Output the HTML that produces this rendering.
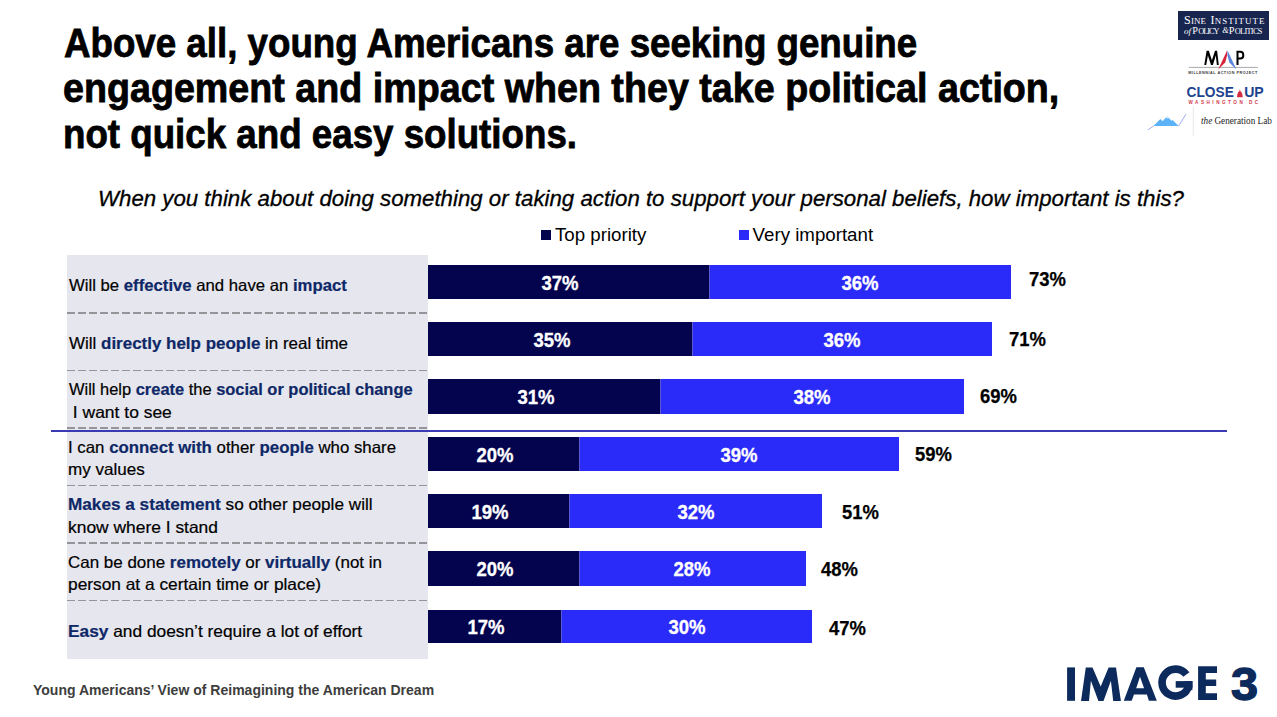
<!DOCTYPE html>
<html><head><meta charset="utf-8">
<style>
html,body{margin:0;padding:0;background:#fff;}
body{width:1277px;height:717px;position:relative;overflow:hidden;font-family:"Liberation Sans",sans-serif;}
.t{position:absolute;white-space:nowrap;line-height:1;transform-origin:0 0;}
.ti{font-weight:bold;font-size:40px;color:#000;-webkit-text-stroke:0.8px #000;}
.sub{font-style:italic;font-size:22.3px;color:#000;-webkit-text-stroke:0.3px #000;}
.lg{font-size:18.7px;color:#000;}
.sq{position:absolute;width:10px;height:10px;}
.panel{position:absolute;left:67px;top:255px;width:361px;height:404px;background:#e6e6ee;}
.dash{position:absolute;left:67px;width:361px;height:1.5px;background:repeating-linear-gradient(90deg,#959599 0 7.9px,transparent 7.9px 11px);}
.rl{font-size:16.5px;color:#000;-webkit-text-stroke:0.2px #000;}
.rl b{color:#0e2867;-webkit-text-stroke:0.2px #0e2867;}
.bar{position:absolute;height:34px;}
.d{background:#03034e;}
.v{background:#2b2bf9;box-shadow:inset 1px 0 0 #5a5ad2;}
.bl{font-weight:bold;font-size:20px;color:#fff;text-align:center;width:100px;transform-origin:50% 0;transform:scaleX(0.927);-webkit-text-stroke:0.3px #fff;}
.tot{font-weight:bold;font-size:19.5px;color:#000;-webkit-text-stroke:0.25px #000;}
</style></head><body>
<!-- Title -->
<div class="t ti" style="left:63.5px;top:22.84px;transform:scaleX(0.9175)">Above all, young Americans are seeking genuine</div>
<div class="t ti" style="left:63.3px;top:67.74px;transform:scaleX(0.9417)">engagement and impact when they take political action,</div>
<div class="t ti" style="left:62.9px;top:114.14px;transform:scaleX(0.9177)">not quick and easy solutions.</div>

<!-- Subtitle -->
<div class="t sub" style="left:98px;top:188.4px;font-size:22.25px">When you think about doing something or taking action to support your personal beliefs, how important is this?</div>

<!-- Legend -->
<div class="sq" style="left:541px;top:230px;background:#03034e"></div>
<div class="t lg" style="left:555px;top:225.7px;">Top priority</div>
<div class="sq" style="left:739px;top:230px;background:#2b2bf9"></div>
<div class="t lg" style="left:752.6px;top:225.7px;">Very important</div>

<!-- Panel -->
<div class="panel"></div>
<div class="dash" style="top:312px"></div>
<div class="dash" style="top:369.5px"></div>
<div class="dash" style="top:427px"></div>
<div class="dash" style="top:484.5px"></div>
<div class="dash" style="top:542px"></div>
<div class="dash" style="top:599.5px"></div>

<!-- Row labels -->
<div class="t rl" style="left:68.8px;top:276.8px;transform:scaleX(1.013)">Will be <b>effective</b> and have an <b>impact</b></div>
<div class="t rl" style="left:68.8px;top:335px;transform:scaleX(1.028)">Will <b>directly help people</b> in real time</div>
<div class="t rl" style="left:68.8px;top:380.6px;transform:scaleX(0.9965)">Will help <b>create</b> the <b>social or political change</b></div>
<div class="t rl" style="left:67.8px;top:404px;transform:scaleX(1.058)">&nbsp;I want to see</div>
<div class="t rl" style="left:67.8px;top:438.9px;transform:scaleX(1.019)">I can <b>connect with</b> other <b>people</b> who share</div>
<div class="t rl" style="left:67.8px;top:460.6px;transform:scaleX(1.033)">my values</div>
<div class="t rl" style="left:67.8px;top:495.8px;transform:scaleX(1.041)"><b>Makes a statement</b> so other people will</div>
<div class="t rl" style="left:67.8px;top:518.7px;transform:scaleX(1.055)">know where I stand</div>
<div class="t rl" style="left:67.8px;top:553.8px;transform:scaleX(1.028)">Can be done <b>remotely</b> or <b>virtually</b> (not in</div>
<div class="t rl" style="left:67.8px;top:575.6px;transform:scaleX(1.049)">person at a certain time or place)</div>
<div class="t rl" style="left:67.8px;top:622.8px;transform:scaleX(1.049)"><b>Easy</b> and doesn’t require a lot of effort</div>

<!-- Blue divider -->
<div style="position:absolute;left:51px;top:430px;width:1176px;height:2px;background:#3a3ab5"></div>

<!-- Footer -->
<div class="t" style="left:32.6px;top:682.7px;font-weight:bold;font-size:14.4px;color:#3d3d3d;transform:scaleX(0.974)">Young Americans’ View of Reimagining the American Dream</div>
<svg style="position:absolute;left:1060px;top:660px" width="205" height="45" viewBox="1060 660 205 45">
  <g fill="#0c2a5c">
    <rect x="1067.1" y="667.4" width="7.9" height="33.4"/>
    <path d="M1081 700.9 L1085.8 667.4 L1092.5 667.4 L1100.7 686.6 L1108.6 667.4 L1116 667.4 L1120.9 700.9 L1113.2 700.9 L1110.9 680.8 L1103.5 700.9 L1098.4 700.9 L1090.9 680.8 L1089 700.9 Z"/>
    <path fill-rule="evenodd" d="M1123.8 700.8 L1136.4 667.2 L1143.8 667.2 L1156.8 700.8 L1148.9 700.8 L1146.9 694.5 L1134 694.5 L1131.7 700.8 Z M1140 676.8 L1136.2 688.3 L1144.1 688.3 Z"/>
    <path d="M1186.4 674.6 A13.5 13.5 0 1 0 1188.7 685.6" fill="none" stroke="#0c2a5c" stroke-width="7.6"/>
    <rect x="1175.7" y="681.1" width="16.8" height="6.6"/>
    <rect x="1185" y="681.1" width="7.4" height="9"/>
    <path d="M1198.1 666.3 H1217 V672.9 H1205.8 V679.5 H1216.2 V685.9 H1205.8 V693.3 H1217 V699.9 H1198.1 Z"/>
  </g>
  <text x="0" y="0" font-family="Liberation Sans" font-weight="bold" font-size="46" fill="#0c2a5c" stroke="#0c2a5c" stroke-width="1.3" transform="translate(1231 700.0) scale(1.06 1.02)">3</text>
</svg>

<!-- Logos -->
<div style="position:absolute;left:1178px;top:11px;width:91px;height:29px;background:#17254f"></div>
<svg style="position:absolute;left:1178px;top:11px" width="91" height="29" viewBox="1178 11 91 29">
  <g font-family="Liberation Serif" fill="#fff">
    <text y="23.8"><tspan x="1184.1" font-size="12">S</tspan><tspan font-size="8.9" dx="0.3">INE</tspan></text>
    <text y="23.8"><tspan x="1210.4" font-size="12">I</tspan><tspan font-size="8.9" dx="0.4" textLength="49.5" lengthAdjust="spacing">NSTITUTE</tspan></text>
    <text y="33.6" font-style="italic" font-size="9" x="1184.1">of</text>
    <text y="33.6"><tspan x="1192.2" font-size="10.2">P</tspan><tspan font-size="8.3" dx="0.3" textLength="21.4" lengthAdjust="spacing">OLICY</tspan></text>
    <text y="33.4" font-style="italic" font-size="8.4" x="1222.2">&amp;</text>
    <text y="33.6"><tspan x="1228.8" font-size="10.2">P</tspan><tspan font-size="8.3" dx="0.3" textLength="27.6" lengthAdjust="spacing">OLITICS</tspan></text>
  </g>
</svg>

<svg style="position:absolute;left:1186px;top:48px" width="74" height="28" viewBox="1186 48 74 28">
  <line x1="1188.8" y1="67.4" x2="1257.9" y2="67.4" stroke="#a0a0a0" stroke-width="0.9"/>
  <path d="M1204.3 64.9 L1206.6 50.8 L1208.8 50.8 L1211.9 60.2 L1215 50.8 L1217.1 50.8 L1218.8 64.9 L1216.9 64.9 L1215.8 55.5 L1212.9 64.9 L1211 64.9 L1207.9 55.5 L1206.2 64.9 Z" fill="#000"/>
  <path d="M1227.2 50.3 L1218.2 69.6 L1225.2 62.5 L1227.1 55.5 Z" fill="#d7263b"/>
  <path d="M1227.4 50.3 L1236.4 69.6 L1229.4 62.5 L1227.5 55.5 Z" fill="#5a86e0"/>
  <path d="M1237.5 64.9 V51.8 H1240.2 C1242.6 51.8 1243.3 53.5 1243.3 55.2 C1243.3 57 1242.6 58.6 1240.2 58.6 H1237.5" fill="none" stroke="#000" stroke-width="2"/>
  <text x="1188.2" y="73.8" font-family="Liberation Sans" font-weight="bold" font-size="4.1" fill="#383838" letter-spacing="0.55" textLength="69.6" lengthAdjust="spacingAndGlyphs">MILLENNIAL ACTION PROJECT</text>
</svg>

<svg style="position:absolute;left:1184px;top:84px" width="84" height="22" viewBox="1184 84 84 22">
  <text x="1186.5" y="97.3" font-family="Liberation Sans" font-weight="bold" font-size="14" fill="#1d438f" textLength="47.3" lengthAdjust="spacingAndGlyphs">CLOSE</text>
  <path d="M1239.9 89.2 L1240.3 90.4 L1240.3 91.2 C1241.5 91.6 1241.9 92.8 1241.9 93.8 L1242.3 93.8 L1242.7 97.3 L1237 97.3 L1237.4 93.8 L1237.8 93.8 C1237.8 92.8 1238.2 91.6 1239.5 91.2 L1239.5 90.4 Z" fill="#d22c3e"/>
  <text x="1244.2" y="97.3" font-family="Liberation Sans" font-weight="bold" font-size="14" fill="#1d438f" textLength="19.6" lengthAdjust="spacingAndGlyphs">UP</text>
  <text x="1188.5" y="103.7" font-family="Liberation Sans" font-weight="bold" font-size="4.6" fill="#d0384a" textLength="69.7" lengthAdjust="spacing">WASHINGTON DC</text>
</svg>

<svg style="position:absolute;left:1145px;top:105px" width="50" height="32" viewBox="1145 105 50 32">
  <path d="M1148 129.8 L1153.6 126" stroke="#8c98ee" stroke-width="0.8" fill="none"/>
  <path d="M1153.4 126 L1160.4 119 L1162.6 121 L1167.4 116.3 L1171.4 120.8 L1172.6 120 L1178.6 126 Z" fill="#5bb2f6"/>
  <path d="M1160.4 119 L1162.6 121 L1164 119.8 Z M1167.4 116.3 L1169.3 118.5 L1166 118.3 Z" fill="#e8f4ff"/>
  <path d="M1178.6 126 L1186.1 113.9" stroke="#8c98ee" stroke-width="0.8" fill="none"/>
  <line x1="1193.3" y1="107.2" x2="1193.3" y2="135.7" stroke="#dcdcdc" stroke-width="0.7"/>
</svg>
<svg style="position:absolute;left:1198px;top:112px" width="79" height="16" viewBox="1198 112 79 16">
  <text x="1201" y="124.4" font-family="Liberation Serif" font-size="9.7" fill="#222" textLength="70.8" lengthAdjust="spacingAndGlyphs"><tspan font-style="italic">the</tspan> Generation Lab</text>
</svg>

<!-- Bars -->
<!--BARS-->
<div class="bar d" style="left:428px;top:265px;width:281px;height:34px"></div>
<div class="bar v" style="left:709px;top:265px;width:302px;height:34px"></div>
<div class="t bl" style="left:510.1px;top:272.6px">37%</div>
<div class="t bl" style="left:810.1px;top:272.6px">36%</div>
<div class="t tot" style="left:1028.5px;top:270.4px;transform:scaleX(0.945)">73%</div>
<div class="bar d" style="left:428px;top:322px;width:264px;height:34px"></div>
<div class="bar v" style="left:692px;top:322px;width:300px;height:34px"></div>
<div class="t bl" style="left:501.5px;top:329.9px">35%</div>
<div class="t bl" style="left:792.1px;top:329.9px">36%</div>
<div class="t tot" style="left:1008.7px;top:329.5px;transform:scaleX(0.945)">71%</div>
<div class="bar d" style="left:428px;top:379px;width:232px;height:35px"></div>
<div class="bar v" style="left:660px;top:379px;width:304px;height:35px"></div>
<div class="t bl" style="left:485.5px;top:387.1px">31%</div>
<div class="t bl" style="left:762.1px;top:387.1px">38%</div>
<div class="t tot" style="left:980.2px;top:386.5px;transform:scaleX(0.945)">69%</div>
<div class="bar d" style="left:428px;top:437px;width:151px;height:34px"></div>
<div class="bar v" style="left:579px;top:437px;width:320px;height:34px"></div>
<div class="t bl" style="left:444.9px;top:444.5px">20%</div>
<div class="t bl" style="left:688.9px;top:444.5px">39%</div>
<div class="t tot" style="left:914.7px;top:444.6px;transform:scaleX(0.945)">59%</div>
<div class="bar d" style="left:428px;top:494px;width:141px;height:34px"></div>
<div class="bar v" style="left:569px;top:494px;width:253px;height:34px"></div>
<div class="t bl" style="left:440.1px;top:501.9px">19%</div>
<div class="t bl" style="left:645.5px;top:501.9px">32%</div>
<div class="t tot" style="left:841.8px;top:502.6px;transform:scaleX(0.945)">51%</div>
<div class="bar d" style="left:428px;top:551px;width:151px;height:35px"></div>
<div class="bar v" style="left:579px;top:551px;width:227px;height:35px"></div>
<div class="t bl" style="left:444.9px;top:559.1px">20%</div>
<div class="t bl" style="left:642.3px;top:559.1px">28%</div>
<div class="t tot" style="left:821.4px;top:560.3px;transform:scaleX(0.945)">48%</div>
<div class="bar d" style="left:428px;top:610px;width:133px;height:33px"></div>
<div class="bar v" style="left:561px;top:610px;width:251px;height:33px"></div>
<div class="t bl" style="left:436.2px;top:617.2px">17%</div>
<div class="t bl" style="left:636.8px;top:617.2px">30%</div>
<div class="t tot" style="left:828.7px;top:618.5px;transform:scaleX(0.945)">47%</div>
<!--/BARS-->
</body></html>
